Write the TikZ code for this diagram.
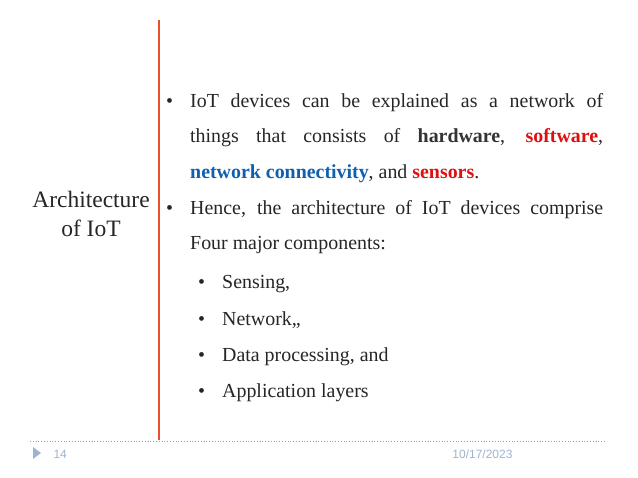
\documentclass[tikz,border=0pt]{standalone}
\usepackage{fontspec}
\setmainfont{Liberation Serif}
\newfontfamily\sansf{Liberation Sans}
\definecolor{redline}{HTML}{E8502E}
\definecolor{hw}{HTML}{333333}
\definecolor{sw}{HTML}{E01010}
\definecolor{nc}{HTML}{1060B0}
\definecolor{dotc}{HTML}{8AA0C0}
\definecolor{foot}{HTML}{A0B4D0}
\newcommand{\jl}[1]{\makebox[413pt][s]{#1}}
\begin{document}
\begin{tikzpicture}[x=1pt,y=-1pt,
  bul/.style={anchor=base west,font=\fontsize{19.9}{19.9}\selectfont,text=black!85,inner sep=0}]
\useasboundingbox[fill=white] (0,0) rectangle (638,478);
\draw[redline,line width=1.2pt] (159,20) coordinate(t) -- (159,440) coordinate(b);
\draw[dotc,dotted,line width=0.8pt] (30,441) coordinate(l) -- (605,441) coordinate(r);
\fill[foot] (33,447) -- (41,453) -- (33,459) -- cycle;
\node[anchor=base west,font=\sansf\fontsize{12}{12}\selectfont,text=foot] (pg) at (50,459) {14};
\node[anchor=base east,font=\sansf\fontsize{12}{12}\selectfont,text=foot] (dt) at (516,459) {10/17/2023};
\node[align=center,font=\fontsize{23.5}{29}\selectfont,text=black!85] (title) at (91,214) {Architecture\\of IoT};
\node[bul] (b1) at (166,108) {•};
\node[bul] (l1) at (190,108) {\jl{IoT devices can be explained as a network of}};
\node[bul] (l2) at (190,143) {\jl{things that consists of \textcolor{hw}{\textbf{hardware}}, \textcolor{sw}{\textbf{software}},}};
\node[bul] (l3) at (190,179) {\textcolor{nc}{\textbf{network connectivity}}, and \textcolor{sw}{\textbf{sensors}}.};
\node[bul] (b2) at (166,215) {•};
\node[bul] (l4) at (190,215) {\jl{Hence, the architecture of IoT devices comprise}};
\node[bul] (l5) at (190,250) {Four major components:};
\node[bul] (s1) at (198,289) {•};
\node[bul] (t1) at (222,289) {Sensing,};
\node[bul] (s2) at (198,326) {•};
\node[bul] (t2) at (222,326) {Network,,};
\node[bul] (s3) at (198,362) {•};
\node[bul] (t3) at (222,362) {Data processing, and};
\node[bul] (s4) at (198,398) {•};
\node[bul] (t4) at (222,398) {Application layers};
\end{tikzpicture}
\end{document}
